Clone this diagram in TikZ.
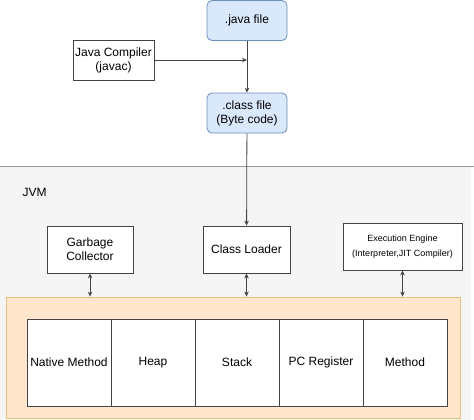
\documentclass[tikz,border=0pt]{standalone}
\usepackage{fontspec}
\setmainfont{Liberation Sans}
\usetikzlibrary{arrows.meta,positioning}
\definecolor{bluefill}{HTML}{DAE8FC}
\definecolor{blueline}{HTML}{6C8EBF}
\definecolor{orfill}{HTML}{FFE6CC}
\definecolor{orline}{HTML}{E6C07A}
\definecolor{jvmfill}{HTML}{F5F5F5}
\definecolor{jvmline}{HTML}{999999}
\definecolor{linec}{HTML}{444444}
\tikzset{
  bluebox/.style={draw=blueline, fill=bluefill, rounded corners=5pt, minimum width=80pt, minimum height=40pt, align=center, font=\fontsize{12}{14}\selectfont, inner sep=0pt, line width=0.8pt},
  plainbox/.style={draw=linec, fill=white, align=center, font=\fontsize{12}{14}\selectfont, inner sep=0pt, line width=0.8pt},
  cellbox/.style={draw=linec, fill=white, minimum width=84pt, minimum height=87pt, font=\fontsize{12}{14}\selectfont, inner sep=0pt, line width=0.8pt},
  conn/.style={draw=linec, line width=0.8pt, -{Stealth[length=5pt,width=4.5pt]}},
  dconn/.style={draw=linec, line width=0.8pt, {Stealth[length=5pt,width=4.5pt]}-{Stealth[length=5pt,width=4.5pt]}},
}
\begin{document}
\begin{tikzpicture}[x=1pt,y=-1pt]
\useasboundingbox (0,0) rectangle (474,420);
% JVM region
\fill[jvmfill] (0,166) rectangle (471,421);
\draw[jvmline, line width=0.8pt] (0,166) -- (474,166);
\node[anchor=west, font=\fontsize{12}{14}\selectfont] (jvm) at (19,192) {JVM};
% top part
\node[bluebox] (java) at (247,20.5) {.java file};
\node[plainbox, minimum width=81pt, minimum height=40pt] (comp) at (113.5,60) {Java Compiler\\(javac)};
\node[bluebox] (class) at (247,113) {.class file\\(Byte code)};
\coordinate (joint) at (247,60);
\draw[conn] (java) -- (class);
\draw[conn] (comp) -- (joint);
% JVM nodes
\node[plainbox, minimum width=86pt, minimum height=47pt] (gc) at (90,249.5) {Garbage\\Collector};
\node[plainbox, minimum width=87pt, minimum height=47pt] (cl) at (246.5,249.5) {Class Loader};
\node[plainbox, minimum width=119pt, minimum height=47pt, font=\fontsize{9}{15}\selectfont] (ee) at (402.5,246.5) {Execution Engine\\(Interpreter,JIT Compiler)};
\draw[conn] (class) -- (cl);
% memory area
\node[draw=orline, fill=orfill, line width=0.8pt, minimum width=454pt, minimum height=121pt, inner sep=0pt] (mem) at (233,357.5) {};
\node[cellbox] (c1) at (69,362.5) {Native Method};
\node[cellbox] (c2) at (153,362.5) {Heap};
\node[cellbox] (c3) at (237,362.5) {Stack};
\node[cellbox] (c4) at (321,362.5) {PC Register};
\node[cellbox] (c5) at (405,362.5) {Method};
\draw[dconn] (gc.south) -- (gc.south |- mem.north);
\draw[dconn] (cl.south) -- (cl.south |- mem.north);
\draw[dconn] (ee.south) -- (ee.south |- mem.north);
\end{tikzpicture}
\end{document}
